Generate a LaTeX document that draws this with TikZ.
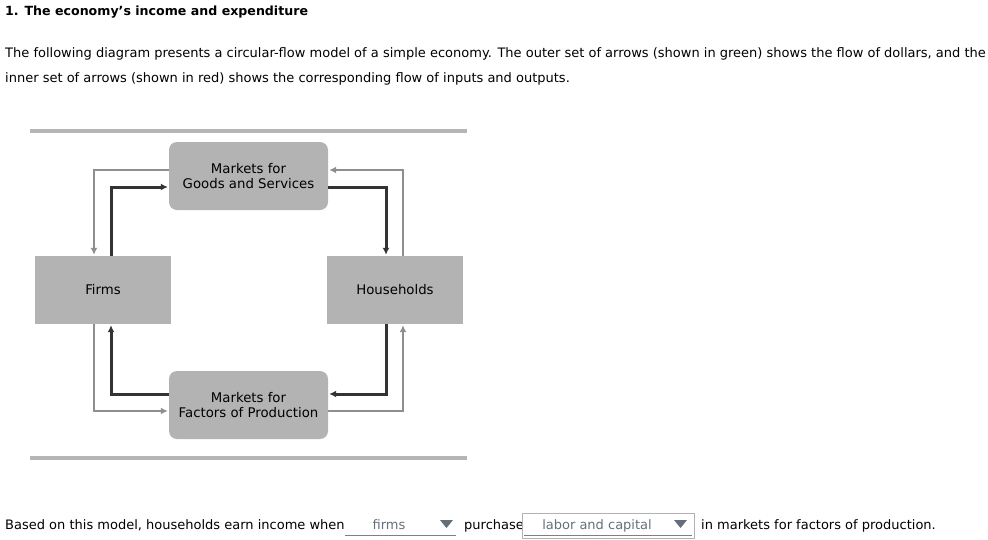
\documentclass[tikz,border=0pt]{standalone}
\usepackage{fontspec}
\setmainfont{DejaVu Sans}
\usetikzlibrary{arrows.meta}
\begin{document}
\begin{tikzpicture}[x=1pt,y=-1pt,
  txt/.style={anchor=base west,inner sep=0,font=\fontsize{13}{15}\selectfont},
  box/.style={fill=boxgray,draw=none,align=center,font=\fontsize{13.3}{15.5}\selectfont,inner sep=0},
  lite/.style={draw=litegray,line width=2.8pt,-{Latex[length=7pt,width=7pt]}},
  dark/.style={draw=darkgray2,line width=3pt,-{Latex[length=7pt,width=7pt]}},
  field/.style={anchor=base,inner sep=0,text=fieldtxt,font=\fontsize{13}{15}\selectfont}]
\definecolor{boxgray}{HTML}{B3B3B3}
\definecolor{litegray}{HTML}{8E8E8E}
\definecolor{darkgray2}{HTML}{333333}
\definecolor{rulegray}{HTML}{B5B5B5}
\definecolor{fieldtxt}{HTML}{666E7A}
\useasboundingbox (0,0) rectangle (988,539);
\node[txt,font=\bfseries\fontsize{12.6}{15}\selectfont] (t1) at (5,15) {1. The economy's income and expenditure};
\node[txt] (t2) at (5,57) {The following diagram presents a circular-flow model of a simple economy. The outer set of arrows (shown in green) shows the flow of dollars, and the};
\node[txt] (t3) at (5,82) {inner set of arrows (shown in red) shows the corresponding flow of inputs and outputs.};
\draw[rulegray,line width=4pt] (30,131) -- (467,131);
\draw[rulegray,line width=4pt] (30,458) -- (467,458);
\node[box,minimum width=159pt,minimum height=68pt,rounded corners=8pt] (g) at (248.5,176) {Markets for\\Goods and Services};
\node[box,minimum width=159pt,minimum height=68pt,rounded corners=8pt] (f) at (248.5,405) {Markets for\\Factors of Production};
\node[box,minimum width=136pt,minimum height=68pt] (fi) at (103,290) {Firms};
\node[box,minimum width=136pt,minimum height=68pt] (h) at (395,290) {Households};
\begin{scope}[shorten >=1pt]
\coordinate (a1) at (94,170); \coordinate (a2) at (111,187);
\coordinate (a3) at (386,187); \coordinate (a4) at (403,170);
\coordinate (b1) at (94,411); \coordinate (b2) at (111,394);
\coordinate (b3) at (386,394); \coordinate (b4) at (403,411);
\draw[lite] (g.west |- a1) -- (a1) -- (a1 |- fi.north);
\draw[dark] (a2 |- fi.north) -- (a2) -- (g.west |- a2);
\draw[dark] (g.east |- a3) -- (a3) -- (a3 |- h.north);
\draw[lite] (a4 |- h.north) -- (a4) -- (g.east |- a4);
\draw[lite] (b1 |- fi.south) -- (b1) -- (f.west |- b1);
\draw[dark] (f.west |- b2) -- (b2) -- (b2 |- fi.south);
\draw[dark] (b3 |- h.south) -- (b3) -- (f.east |- b3);
\draw[lite] (f.east |- b4) -- (b4) -- (b4 |- h.south);
\end{scope}
\node[txt] (q1) at (5,529) {Based on this model, households earn income when};
\draw[gray,line width=1pt] (345,535) -- (456,535);
\node[field] (v1) at (389,529) {firms};
\fill[fieldtxt] (440,520) -- (453,520) -- (446.5,528) -- cycle;
\node[txt] (q2) at (464,529) {purchase};
\draw[black!30,line width=0.8pt] (522,513) rectangle (694,538);
\draw[gray,line width=1pt] (524,535) -- (692,535);
\node[field] (v2) at (597,529) {labor and capital};
\fill[fieldtxt] (674,520) -- (687,520) -- (680.5,528) -- cycle;
\node[txt] (q3) at (701,529) {in markets for factors of production.};
\end{tikzpicture}
\end{document}
